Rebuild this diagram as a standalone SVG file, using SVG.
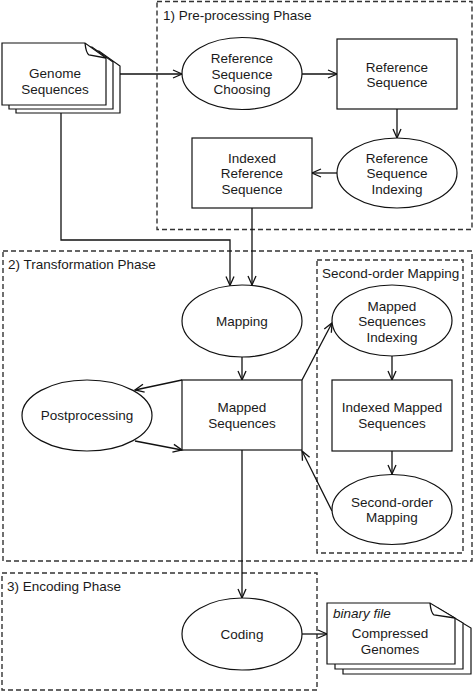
<svg xmlns="http://www.w3.org/2000/svg" width="474" height="692" viewBox="0 0 474 692">
<style>
text{font-family:"Liberation Sans",Arial,sans-serif;font-size:13.5px;fill:#1a1a1a}
.c{text-anchor:middle}
.it{font-style:italic}
.n{fill:#fff;stroke:#111;stroke-width:1.2}
.ph{fill:none;stroke:#333;stroke-width:1.4;stroke-dasharray:5,3}
.e{fill:none;stroke:#111;stroke-width:1.3;marker-end:url(#a)}
.l{fill:none;stroke:#111;stroke-width:1.3}
</style>
<defs>
<marker id="a" viewBox="-10 -6 12 12" refX="0" refY="0" markerWidth="12" markerHeight="12" markerUnits="userSpaceOnUse" orient="auto">
<path d="M-9,-4 L0,0 L-9,4" fill="none" stroke="#111" stroke-width="1.3"/>
</marker>
<path id="doc1" d="M0,0 H83 L104,15 V62 H0 Z"/>
<path id="doc2" d="M0,0 H103 L128,15 V61 H0 Z"/>
</defs>
<rect width="474" height="692" fill="#fff"/>

<g id="phase1">
<rect class="ph" x="157" y="1.5" width="315" height="228"/>
<text x="163" y="19.5">1) Pre-processing Phase</text>
</g>
<g id="phase2">
<rect class="ph" x="3" y="251" width="469" height="310"/>
<text x="8" y="268.5">2) Transformation Phase</text>
</g>
<g id="second-order">
<rect class="ph" x="317" y="260" width="146" height="293"/>
<text x="322" y="277.5">Second-order Mapping</text>
</g>
<g id="phase3">
<rect class="ph" x="2" y="573" width="315" height="117"/>
<text x="7" y="590.5">3) Encoding Phase</text>
</g>

<g id="connectors">
<line class="e" x1="120" y1="74" x2="182" y2="74"/>
<line class="e" x1="302" y1="74" x2="337" y2="74"/>
<line class="e" x1="397" y1="109" x2="397" y2="138"/>
<line class="e" x1="337" y1="173" x2="312" y2="173"/>
<line class="e" x1="252" y1="208" x2="252" y2="285"/>
<polyline class="e" points="61,113 61,240 230,240 230,285.5"/>
<line class="e" x1="242" y1="357" x2="242" y2="380"/>
<line class="e" x1="182" y1="380" x2="135" y2="390"/>
<line class="e" x1="135" y1="441" x2="182" y2="450"/>
<line class="e" x1="302" y1="380" x2="332" y2="323"/>
<line class="e" x1="392" y1="356" x2="392" y2="380"/>
<line class="e" x1="392" y1="451" x2="392" y2="474"/>
<line class="e" x1="332" y1="511" x2="302" y2="451"/>
<line class="e" x1="242" y1="450" x2="242" y2="598"/>
<line class="e" x1="302" y1="634" x2="327" y2="634"/>
</g>

<g id="genome-sequences">
<use href="#doc1" class="n" x="16" y="51"/>
<use href="#doc1" class="n" x="9" y="47"/>
<use href="#doc1" class="n" x="2" y="43"/>
<path class="l" d="M85,43 Q86,53 89,55 L106,58"/>
<text class="c" x="55" y="77.5">Genome</text>
<text class="c" x="55" y="93.5">Sequences</text>
</g>

<g id="ref-choosing">
<ellipse class="n" cx="242" cy="73.5" rx="60" ry="36"/>
<text class="c" x="242" y="62.5">Reference</text>
<text class="c" x="242" y="78.5">Sequence</text>
<text class="c" x="242" y="94">Choosing</text>
</g>

<g id="reference-sequence">
<rect class="n" x="337" y="39" width="120" height="70"/>
<text class="c" x="397" y="71.5">Reference</text>
<text class="c" x="397" y="87">Sequence</text>
</g>

<g id="ref-indexing">
<ellipse class="n" cx="397" cy="173" rx="60" ry="35"/>
<text class="c" x="397" y="162.5">Reference</text>
<text class="c" x="397" y="178">Sequence</text>
<text class="c" x="397" y="193.5">Indexing</text>
</g>

<g id="indexed-reference">
<rect class="n" x="192" y="138" width="120" height="70"/>
<text class="c" x="252" y="162.5">Indexed</text>
<text class="c" x="252" y="178">Reference</text>
<text class="c" x="252" y="193.5">Sequence</text>
</g>

<g id="mapping">
<ellipse class="n" cx="242" cy="321" rx="60" ry="36"/>
<text class="c" x="242" y="325.5">Mapping</text>
</g>

<g id="mapped-sequences">
<rect class="n" x="182" y="380" width="120" height="70"/>
<text class="c" x="242" y="411.5">Mapped</text>
<text class="c" x="242" y="427.5">Sequences</text>
</g>

<g id="postprocessing">
<ellipse class="n" cx="87" cy="415.5" rx="65" ry="35.5"/>
<text class="c" x="87" y="420">Postprocessing</text>
</g>

<g id="mapped-indexing">
<ellipse class="n" cx="392" cy="320.5" rx="60" ry="35.5"/>
<text class="c" x="392" y="310.5">Mapped</text>
<text class="c" x="392" y="326">Sequences</text>
<text class="c" x="392" y="341.5">Indexing</text>
</g>

<g id="indexed-mapped">
<rect class="n" x="332" y="380" width="120" height="71"/>
<text class="c" x="392" y="411.5">Indexed Mapped</text>
<text class="c" x="392" y="427.5">Sequences</text>
</g>

<g id="second-order-mapping">
<ellipse class="n" cx="392" cy="509.5" rx="60" ry="35"/>
<text class="c" x="392" y="506.5">Second-order</text>
<text class="c" x="392" y="522">Mapping</text>
</g>

<g id="coding">
<ellipse class="n" cx="242" cy="634" rx="60" ry="36"/>
<text class="c" x="242" y="638.5">Coding</text>
</g>

<g id="compressed-genomes">
<use href="#doc2" class="n" x="343" y="613"/>
<use href="#doc2" class="n" x="335" y="608"/>
<use href="#doc2" class="n" x="327" y="603"/>
<path class="l" d="M430,603 Q431,613 434,615 L455,618"/>
<text class="it" x="333" y="617.5">binary file</text>
<text class="c" x="390" y="637.5">Compressed</text>
<text class="c" x="390" y="653.5">Genomes</text>
</g>
</svg>
